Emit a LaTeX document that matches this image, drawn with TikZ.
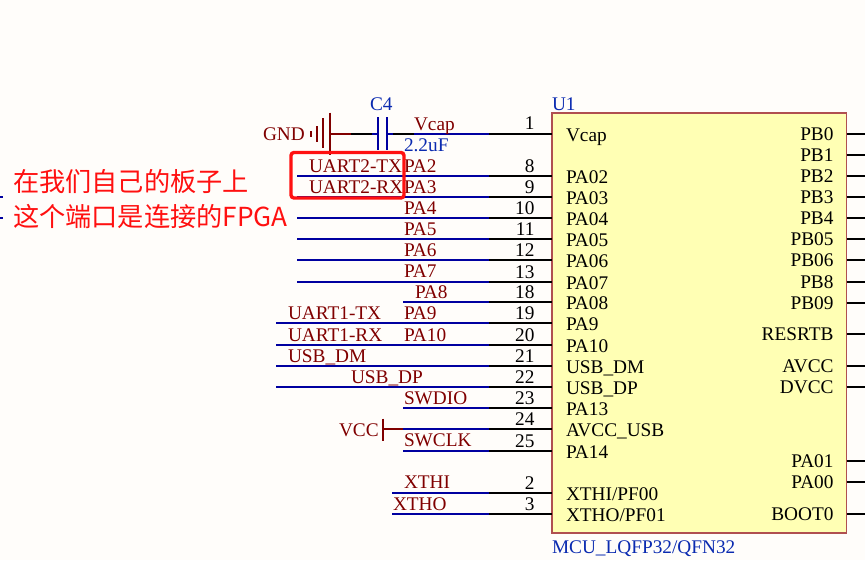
\documentclass[tikz,border=0pt]{standalone}
\usepackage{fontspec}
\setmainfont{Liberation Serif}
\newfontfamily\cjkfont{Noto Sans CJK SC}
\definecolor{paper}{HTML}{FFFDFA}
\definecolor{chip}{HTML}{FFFFB4}
\definecolor{chipline}{HTML}{B05050}
\definecolor{netred}{HTML}{800000}
\definecolor{wireblue}{HTML}{0000A0}
\definecolor{desblue}{HTML}{0A2AB0}
\definecolor{note}{HTML}{FF1010}
\tikzset{
  every node/.style={inner sep=0pt,outer sep=0pt},
  net/.style={anchor=base west,text=netred,font=\fontsize{19.3}{21}\selectfont},
  pinnum/.style={anchor=base east,text=black,font=\fontsize{19.3}{21}\selectfont},
  pinl/.style={anchor=base west,text=black,font=\fontsize{19.3}{21}\selectfont},
  pinr/.style={anchor=base east,text=black,font=\fontsize{19.3}{21}\selectfont},
  des/.style={anchor=base west,text=desblue,font=\fontsize{19.3}{21}\selectfont},
  blackwire/.style={draw=black,line width=2pt},
  bluewire/.style={draw=wireblue,line width=2pt},
  brownwire/.style={draw=netred,line width=2pt},
  notetext/.style={anchor=base west,text=note,font=\cjkfont\fontsize{26.2}{28}\selectfont},
}
\begin{document}
\begin{tikzpicture}[x=1pt,y=-1pt]
\useasboundingbox (0,0) rectangle (865,560);
\fill[paper] (0,0) rectangle (865,560);
% chip body
\node[draw=chipline,fill=chip,line width=1.4pt,minimum width=294.5pt,minimum height=420pt,anchor=north west] (chip) at (552,113) {};
% left pins: number/wire y/pin name/blue start
\foreach \n/\y/\name/\bx in {
 8/176/PA02/297, 9/197/PA03/297, 10/218/PA04/297, 11/239/PA05/297,
 12/260/PA06/297, 13/282/PA07/297, 18/302/PA08/403, 19/323/PA9/276,
 20/345/PA10/276, 21/366/USB\_DM/276, 22/387/USB\_DP/276, 23/408/PA13/403,
 24/429/AVCC\_USB/403, 25/451/PA14/403,
 2/493/XTHI\slash PF00/392, 3/514/XTHO\slash PF01/392}{
  \coordinate (s\n) at (\bx,\y);
  \coordinate (m\n) at (489,\y);
  \coordinate (e\n) at (552,\y);
  \draw[bluewire] (s\n) -- (m\n);
  \draw[blackwire] (m\n) -- (e\n);
  \node[pinnum] (num\n) at (534.5,\y-3.8) {\n};
  \node[pinl] (name\n) at (566,\y+7.5) {\name};
}
% pin 1 and capacitor
\coordinate (e1) at (552,134);
\coordinate (m1) at (489,134);
\coordinate (v1) at (414,134);
\coordinate (c2) at (393,134);
\coordinate (p2) at (387,134);
\coordinate (p1) at (378,134);
\coordinate (c1) at (372,134);
\coordinate (g2) at (351,134);
\coordinate (g1) at (330,134);
\draw[blackwire] (m1) -- (e1);
\draw[bluewire] (v1) -- (m1);
\draw[blackwire] (c2) -- (v1);
\draw[bluewire] (p2) -- (c2);
\draw[bluewire] (p1) -- (c1);
\draw[blackwire] (c1) -- (g2);
\draw[brownwire] (g2) -- (g1);
\draw[bluewire] (378,117) -- (378,150);
\draw[bluewire] (387,117) -- (387,150);
\draw[brownwire] (330,112.5) -- (330,155);
\draw[brownwire] (323,118) -- (323,148);
\draw[brownwire] (317,126) -- (317,142);
\draw[brownwire] (311,131) -- (311,137);
\node[pinnum] (num1) at (534.5,129.7) {1};
\node[pinl] (name1) at (566,141) {Vcap};
% VCC symbol
\coordinate (vccbar) at (383,429);
\draw[brownwire] (vccbar) -- (s24);
\draw[brownwire] (383,418.5) -- (383,440.5);
% right pins
\foreach \i/\y/\name in {a/134/PB0,b/155/PB1,c/176/PB2,d/197/PB3,e/218/PB4,f/239/PB05,g/260/PB06,h/282/PB8,i/303/PB09,j/334/RESRTB,k/366/AVCC,l/387/DVCC,m/461/PA01,n/482/PA00,o/514/BOOT0}{
  \coordinate (ra\i) at (846.5,\y);
  \coordinate (rb\i) at (865,\y);
  \draw[blackwire] (ra\i) -- (rb\i);
  \node[pinr] (rn\i) at (833.5,\y+6.8) {\name};
}
% net labels
\node[net] (lgnd) at (263,140.5) {GND};
\node[net] (lvcc) at (339,436.7) {VCC};
\node[net] (lvcap) at (414,130) {Vcap};
\node[net] (ltx2) at (309,172.2) {UART2-TX};
\node[net] (lrx2) at (309,193.2) {UART2-RX};
\node[net] (lpa2) at (404,172.2) {PA2};
\node[net] (lpa3) at (404,193.2) {PA3};
\node[net] (lpa4) at (404,214.7) {PA4};
\node[net] (lpa5) at (404,235.7) {PA5};
\node[net] (lpa6) at (404,256.7) {PA6};
\node[net] (lpa7) at (404,277.7) {PA7};
\node[net] (lpa8) at (415,298.7) {PA8};
\node[net] (lpa9) at (404,319.7) {PA9};
\node[net] (lpa10) at (404,341.7) {PA10};
\node[net] (ltx1) at (288,319.7) {UART1-TX};
\node[net] (lrx1) at (288,341.7) {UART1-RX};
\node[net] (ldm) at (288,362.7) {USB\_DM};
\node[net] (ldp) at (351,383.7) {USB\_DP};
\node[net] (lswd) at (404,404.7) {SWDIO};
\node[net] (lswc) at (404,446.7) {SWCLK};
\node[net] (lxi) at (404,488.7) {XTHI};
\node[net] (lxo) at (393,510.2) {XTHO};
% designators
\node[des] (lc4) at (370,110.3) {C4};
\node[des] (lu1) at (552,110) {U1};
\node[des] (lcv) at (404,151.7) {2.2uF};
\node[des] (lmcu) at (552,553) {MCU\_LQFP32/QFN32};
% annotation
\node[draw=note,line width=3.4pt,rounded corners=3pt,minimum width=113pt,minimum height=45.5pt,anchor=north west] (hl) at (291,152.5) {};
\node[notetext] (n1) at (13,191.5) {在我们自己的板子上};
\node[notetext] (n2) at (13,226.5) {这个端口是连接的FPGA};
% stray wire ends at the left edge
\coordinate (t1a) at (0,197);\coordinate (t1b) at (3,197);
\coordinate (t2a) at (0,218);\coordinate (t2b) at (3,218);
\draw[bluewire] (t1a) -- (t1b);
\draw[bluewire] (t2a) -- (t2b);
\end{tikzpicture}
\end{document}
